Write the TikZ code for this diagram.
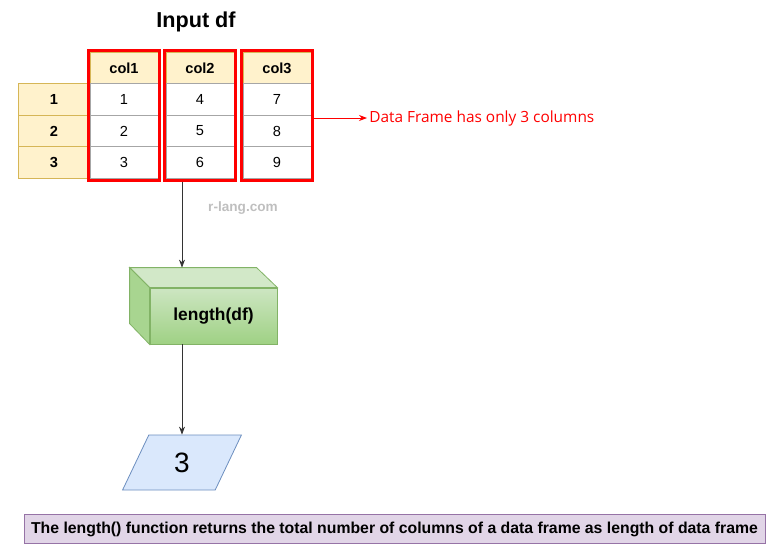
\documentclass[tikz,border=0pt]{standalone}
\usepackage{fontspec}
\setmainfont{Liberation Sans}
\newfontfamily\notefont{Open Sans}
\usetikzlibrary{arrows.meta,shapes.geometric,fit,positioning}

\definecolor{hdrfill}{HTML}{FFF2CC}
\definecolor{hdrline}{HTML}{D6B656}
\definecolor{grnline}{HTML}{82B366}
\definecolor{grnlight}{HTML}{CDE6C2}
\definecolor{grndark}{HTML}{9FD184}
\definecolor{bluefill}{HTML}{DAE8FC}
\definecolor{blueline}{HTML}{6C8EBF}
\definecolor{purfill}{HTML}{E1D5E7}
\definecolor{purline}{HTML}{9673A6}

\tikzset{
  hdr/.style={draw=hdrline, fill=hdrfill, minimum width=34pt, minimum height=15.5pt,
    inner sep=0pt, font=\fontsize{7.3}{8}\selectfont\bfseries},
  rowhdr/.style={hdr, minimum width=36pt, minimum height=16pt},
  cell/.style={draw=gray!70, fill=white, minimum width=34pt, minimum height=16pt,
    inner sep=0pt, font=\fontsize{7.3}{8}\selectfont},
  redcol/.style={draw=red, line width=1.5pt, inner sep=0.6pt},
  link/.style={-{Stealth[length=4pt,width=3pt]}, black!80},
}

\begin{document}
\begin{tikzpicture}[x=0.5pt, y=-0.5pt]
  \useasboundingbox (0,0) rectangle (768,547);
  \node[font=\fontsize{10.8}{12}\selectfont\bfseries] (title) at (196,22) {Input df};
  % ===== table =====
  \foreach \c/\x in {1/124,2/200,3/277}
    \node[hdr] (h\c) at (\x,68) {col\c};
  \foreach \r/\y in {1/99,2/131,3/162.5}
    \node[rowhdr] (r\r) at (54,\y) {\r};
  \foreach \c/\x in {1/124,2/200,3/277}
    \foreach \r/\y in {1/99,2/131,3/162.5}{
      \pgfmathtruncatemacro\v{3*(\c-1)+\r}
      \node[cell] (c\c\r) at (\x,\y) {\v};
    }
  % red frames round the columns
  \foreach \c in {1,2,3}
    \node[redcol, fit=(h\c)(c\c3)] (red\c) {};
  % note on the right
  \node[anchor=west, inner sep=1pt, text=red, font=\notefont\fontsize{7.7}{9}\selectfont] (note)
    at (367,118) {Data Frame has only 3 columns};
  \draw[red, -{Stealth[length=4pt,width=3pt]}] (red3.east |- note.west) -- (note.west);
  \node[text=gray!50, font=\fontsize{6.8}{8}\selectfont\bfseries] (mark) at (243,208) {r-lang.com};
  % ===== function box =====
  \node[draw=grnline, top color=grnlight, bottom color=grndark, minimum width=63.5pt,
    minimum height=28pt, font=\fontsize{8.7}{10}\selectfont\bfseries] (len) at (213.5,316) {length(df)};
  \draw[grnline, fill=grnlight!90!white] (len.north west) -- ++(-20,-20) -- ++(127,0)
    -- (len.north east) -- cycle;
  \draw[grnline, fill=grndark!80!grnlight] (len.north west) -- ++(-20,-20) -- ++(0,56)
    -- (len.south west) -- cycle;
  \coordinate (lenback) at ([shift={(-20,-20)}]len.north west);
  % ===== result =====
  \node[draw=blueline, fill=bluefill, trapezium, trapezium left angle=71,
    trapezium right angle=109, trapezium stretches=true, minimum width=59.5pt,
    minimum height=27.5pt, font=\fontsize{14}{16}\selectfont] (out) at (182,462.5) {3};
  \draw[link] (red2.south -| out.north) -- (out.north |- lenback);
  \draw[link] (out.north |- len.south) -- (out.north);
  % ===== caption =====
  \node[draw=purline, fill=purfill, minimum width=370.5pt, minimum height=14.5pt,
    font=\fontsize{7.9}{9}\selectfont\bfseries] (caption) at (394.5,529)
    {The length() function returns the total number of columns of a data frame as length of data frame};
\end{tikzpicture}
\end{document}
